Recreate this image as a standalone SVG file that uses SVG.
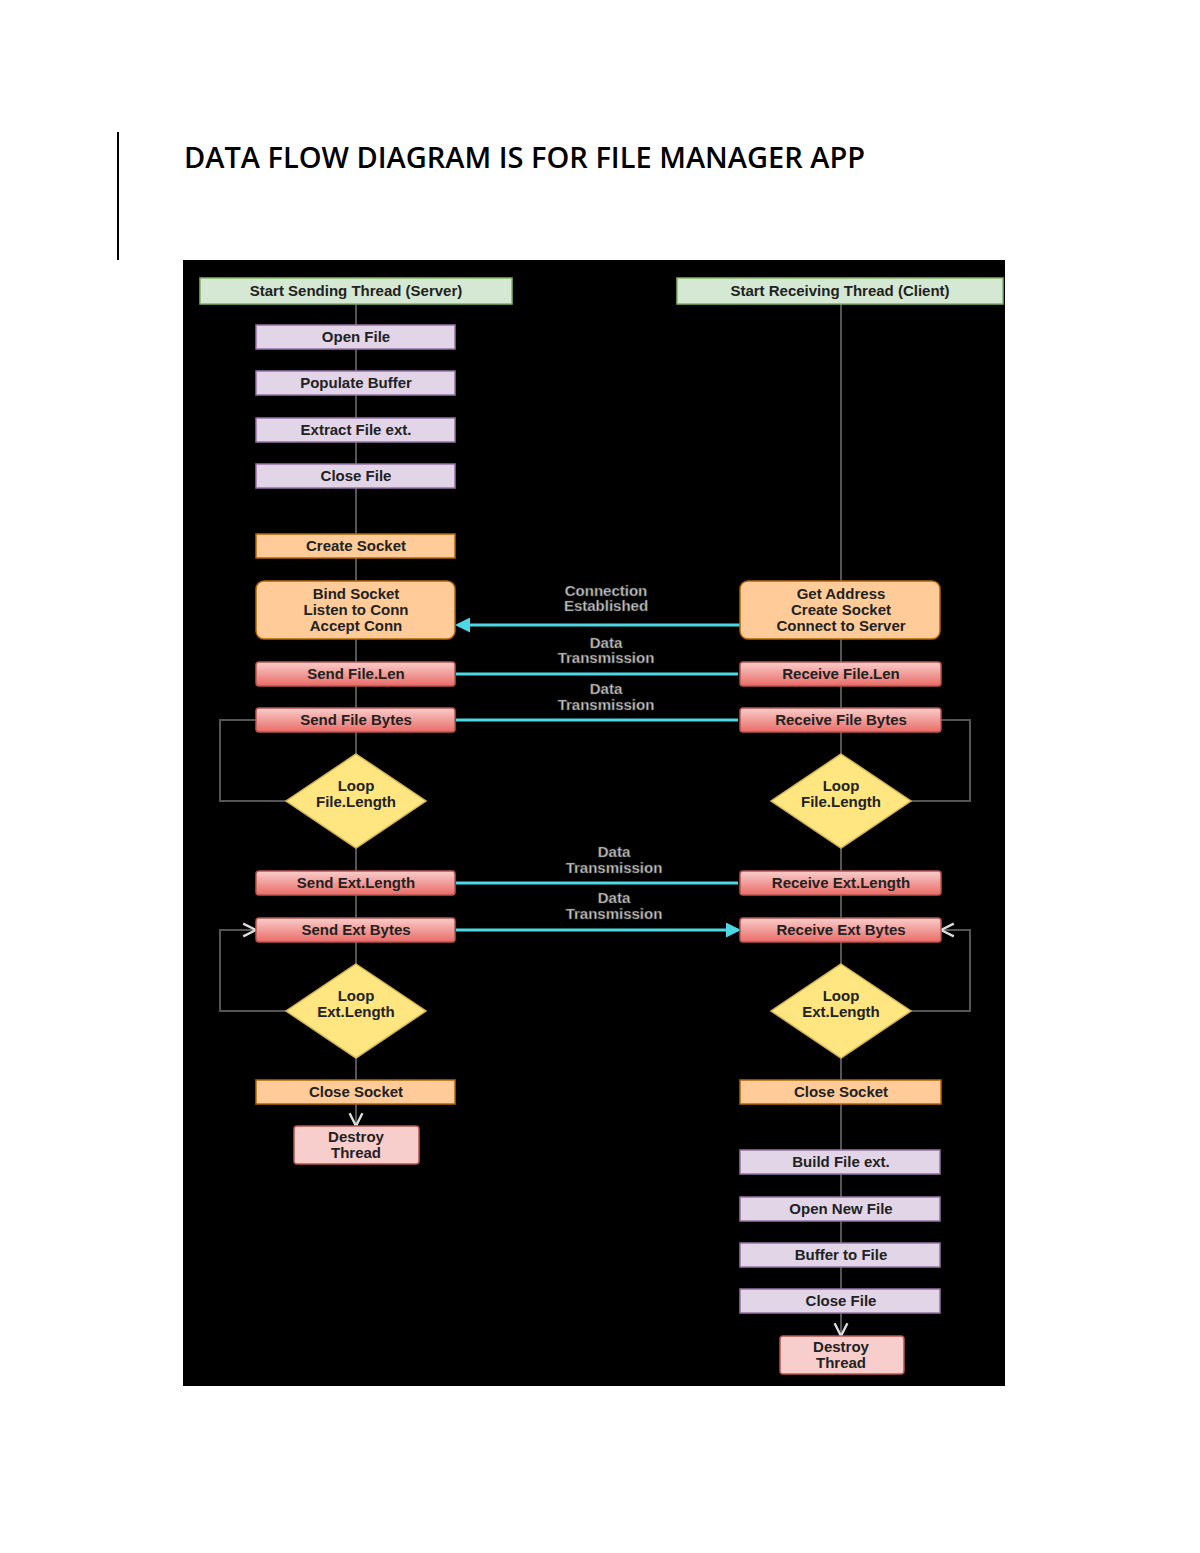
<svg xmlns="http://www.w3.org/2000/svg" width="1200" height="1553" viewBox="0 0 1200 1553">
<style>
text{font-family:"Liberation Sans",Arial,sans-serif;font-size:15px;fill:#222;text-anchor:middle;font-weight:bold}
.g{fill:#d5e8d4;stroke:#82b366;stroke-width:1.5}
.p{fill:#e1d5e7;stroke:#9673a6;stroke-width:1.5}
.o{fill:#ffcc99;stroke:#b46504;stroke-width:1.5}
.r{fill:url(#rg);stroke:#b85450;stroke-width:1.5}
.d{fill:#ffe680;stroke:#d6b656;stroke-width:1.5}
.k{fill:#f8cecc;stroke:#b85450;stroke-width:1.5}
.ln{stroke:#555;stroke-width:2;fill:none}
.cy{stroke:#4dd8e6;stroke-width:3;fill:none}
.lbl{fill:#ccc;stroke:#444;stroke-width:0.6}
</style>
<defs>
<linearGradient id="rg" x1="0" y1="0" x2="0" y2="1"><stop offset="0" stop-color="#f8cecc"/><stop offset="1" stop-color="#ea6b66"/></linearGradient>
<marker id="a" viewBox="0 0 10 10" refX="9" refY="5" markerWidth="8" markerHeight="8" orient="auto"><path d="M1,1 L9,5 L1,9" fill="none" stroke="#ddd" stroke-width="1.5"/></marker>
<marker id="c" viewBox="0 0 10 10" refX="8" refY="5" markerWidth="5" markerHeight="5" orient="auto"><path d="M0,0 L10,5 L0,10 Z" fill="#4dd8e6"/></marker>
</defs>
<rect width="1200" height="1553" fill="#fff"/>
<line x1="118" y1="132" x2="118" y2="260" stroke="#000" stroke-width="2"/>
<text x="184" y="168" style="font-family:'Open Sans','Liberation Sans',sans-serif;font-size:29px;text-anchor:start;fill:#000;font-weight:600">DATA FLOW DIAGRAM  IS FOR FILE MANAGER APP</text>
<rect x="183" y="260" width="822" height="1126" fill="#000"/>
<g id="connectors">
<path class="ln" marker-end="url(#a)" d="M356,304V325M356,349V371M356,395V418M356,442V464M356,488V534M356,558V581M356,639V662M356,686V708M356,732V754M356,848V871M356,895V918M356,942V964M356,1058V1080M356,1104V1126"/>
<path class="ln" marker-end="url(#a)" d="M841,304V581M841,639V662M841,686V708M841,732V754M841,848V871M841,895V918M841,942V964M841,1058V1080M841,1104V1150M841,1174V1197M841,1221V1243M841,1267V1289M841,1313V1336"/>
<path class="ln" marker-end="url(#a)" d="M286,801H220V720H256M286,1011H220V930H256"/>
<path class="ln" marker-end="url(#a)" d="M910,801H970V720H941M910,1011H970V930H941"/>
<path class="cy" marker-end="url(#c)" d="M740,625H458"/>
<path class="cy" marker-end="url(#c)" d="M456,674H738M456,720H738M456,883H738M456,930H738"/>
</g>
<g id="labels" font-size="14">
<text class="lbl" x="606" y="596">Connection</text><text class="lbl" x="606" y="611">Established</text>
<text class="lbl" x="606" y="648">Data</text><text class="lbl" x="606" y="663">Transmission</text>
<text class="lbl" x="606" y="694">Data</text><text class="lbl" x="606" y="710">Transmission</text>
<text class="lbl" x="614" y="857">Data</text><text class="lbl" x="614" y="873">Transmission</text>
<text class="lbl" x="614" y="903">Data</text><text class="lbl" x="614" y="919">Transmission</text>
</g>
<g id="n1"><rect class="g" x="200" y="278" width="312" height="26"/><text x="356" y="296">Start Sending Thread (Server)</text></g>
<g id="n2"><rect class="g" x="677" y="278" width="326" height="26"/><text x="840" y="296">Start Receiving Thread (Client)</text></g>
<g id="n3"><rect class="p" x="256" y="325" width="199" height="24"/><text x="356" y="342">Open File</text></g>
<g id="n4"><rect class="p" x="256" y="371" width="199" height="24"/><text x="356" y="388">Populate Buffer</text></g>
<g id="n5"><rect class="p" x="256" y="418" width="199" height="24"/><text x="356" y="435">Extract File ext.</text></g>
<g id="n6"><rect class="p" x="256" y="464" width="199" height="24"/><text x="356" y="481">Close File</text></g>
<g id="n7"><rect class="o" x="256" y="534" width="199" height="24"/><text x="356" y="551">Create Socket</text></g>
<g id="n8"><rect class="o" x="256" y="581" width="199" height="58" rx="8"/><text x="356" y="599">Bind Socket</text><text x="356" y="615">Listen to Conn</text><text x="356" y="631">Accept Conn</text></g>
<g id="n9"><rect class="o" x="740" y="581" width="200" height="58" rx="8"/><text x="841" y="599">Get Address</text><text x="841" y="615">Create Socket</text><text x="841" y="631">Connect to Server</text></g>
<g id="n10"><rect class="r" x="256" y="662" width="199" height="24" rx="3"/><text x="356" y="679">Send File.Len</text></g>
<g id="n11"><rect class="r" x="740" y="662" width="201" height="24" rx="3"/><text x="841" y="679">Receive File.Len</text></g>
<g id="n12"><rect class="r" x="256" y="708" width="199" height="24" rx="3"/><text x="356" y="725">Send File Bytes</text></g>
<g id="n13"><rect class="r" x="740" y="708" width="201" height="24" rx="3"/><text x="841" y="725">Receive File Bytes</text></g>
<g id="n14"><path class="d" d="M356,754L426,801L356,848L286,801Z"/><text x="356" y="791">Loop</text><text x="356" y="807">File.Length</text></g>
<g id="n15"><path class="d" d="M841,754L911,801L841,848L771,801Z"/><text x="841" y="791">Loop</text><text x="841" y="807">File.Length</text></g>
<g id="n16"><rect class="r" x="256" y="871" width="199" height="24" rx="3"/><text x="356" y="888">Send Ext.Length</text></g>
<g id="n17"><rect class="r" x="740" y="871" width="201" height="24" rx="3"/><text x="841" y="888">Receive Ext.Length</text></g>
<g id="n18"><rect class="r" x="256" y="918" width="199" height="24" rx="3"/><text x="356" y="935">Send Ext Bytes</text></g>
<g id="n19"><rect class="r" x="740" y="918" width="201" height="24" rx="3"/><text x="841" y="935">Receive Ext Bytes</text></g>
<g id="n20"><path class="d" d="M356,964L426,1011L356,1058L286,1011Z"/><text x="356" y="1001">Loop</text><text x="356" y="1017">Ext.Length</text></g>
<g id="n21"><path class="d" d="M841,964L911,1011L841,1058L771,1011Z"/><text x="841" y="1001">Loop</text><text x="841" y="1017">Ext.Length</text></g>
<g id="n22"><rect class="o" x="256" y="1080" width="199" height="24"/><text x="356" y="1097">Close Socket</text></g>
<g id="n23"><rect class="o" x="740" y="1080" width="201" height="24"/><text x="841" y="1097">Close Socket</text></g>
<g id="n24"><rect class="k" x="294" y="1126" width="125" height="38" rx="3"/><text x="356" y="1142">Destroy</text><text x="356" y="1158">Thread</text></g>
<g id="n25"><rect class="p" x="740" y="1150" width="200" height="24"/><text x="841" y="1167">Build File ext.</text></g>
<g id="n26"><rect class="p" x="740" y="1197" width="200" height="24"/><text x="841" y="1214">Open New File</text></g>
<g id="n27"><rect class="p" x="740" y="1243" width="200" height="24"/><text x="841" y="1260">Buffer to File</text></g>
<g id="n28"><rect class="p" x="740" y="1289" width="200" height="24"/><text x="841" y="1306">Close File</text></g>
<g id="n29"><rect class="k" x="780" y="1336" width="124" height="38" rx="3"/><text x="841" y="1352">Destroy</text><text x="841" y="1368">Thread</text></g>
</svg>
